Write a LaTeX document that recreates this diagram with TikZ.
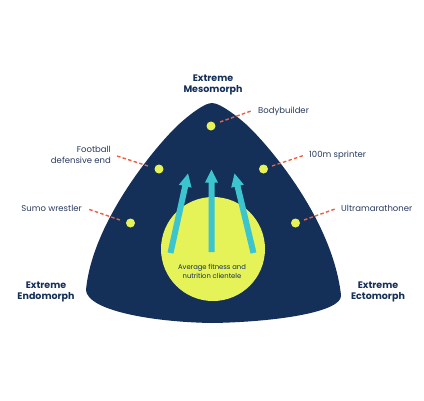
\documentclass[tikz,border=0pt]{standalone}
\usepackage{fontspec}
\setmainfont{Poppins}
\definecolor{navyc}{RGB}{20,48,88}
\definecolor{yellowc}{RGB}{229,242,88}
\definecolor{cyanc}{RGB}{60,196,207}
\definecolor{orangec}{RGB}{242,92,64}
\definecolor{labelc}{RGB}{40,58,96}
\tikzset{
  dot/.style={circle,fill=yellowc,inner sep=0pt,minimum size=9pt},
  dashline/.style={draw=orangec,line width=1.4pt,dash pattern=on 3.5pt off 2.3pt},
  lbl/.style={text=labelc,inner sep=0pt,font=\fontsize{8.5}{11}\selectfont},
  extreme/.style={text=navyc,inner sep=0pt,align=center,font=\fontsize{9.5}{11}\selectfont\bfseries},
}
\begin{document}
\begin{tikzpicture}[x=1pt,y=-1pt]
\useasboundingbox (0,0) rectangle (424,400);
% main rounded triangle
\fill[navyc] (212,103) .. controls (221,103) and (242,120) .. (250,128)
  .. controls (278,156) and (333,225) .. (341,295)
  .. controls (343,312) and (276,322) .. (212,323)
  .. controls (150,322) and (87,310) .. (86,290)
  .. controls (92,225) and (150,153) .. (175,128)
  .. controls (183,120) and (203,103) .. (212,103) -- cycle;
% central circle
\fill[yellowc] (213,249) circle (52pt);
% arrows
\fill[cyanc] (208.5,252) -- (214.5,252) -- (214.5,182.5) -- (218,182.5) -- (211.5,169.5) -- (205,182.5) -- (208.5,182.5) -- cycle;
\fill[cyanc] (173.43,253.645) -- (167.57,252.355) -- (182.275,185.555) -- (178.856,184.803) -- (188,173.5) -- (191.554,187.598) -- (188.135,186.845) -- cycle;
\fill[cyanc] (256.418,252.303) -- (250.582,253.697) -- (234.603,186.841) -- (231.199,187.655) -- (234.5,173.5) -- (243.843,184.633) -- (240.439,185.447) -- cycle;
% centre text
\node[text=navyc,inner sep=0pt,align=center,font=\fontsize{6.8}{9}\selectfont] (avg) at (212,271) {Average fitness and\\nutrition clientele};
% dots
\node[dot] (bb) at (211,126) {};
\node[dot] (fb) at (159,169) {};
\node[dot] (sp) at (263.5,169) {};
\node[dot] (sw) at (130.5,223) {};
\node[dot] (um) at (295.5,223) {};
% dashed leader ends
\coordinate (bb1) at (220,122); \coordinate (bb2) at (251,111);
\coordinate (sp1) at (272,166); \coordinate (sp2) at (305,155);
\coordinate (um1) at (304,220); \coordinate (um2) at (335,209);
\coordinate (fb1) at (148,166); \coordinate (fb2) at (117,156);
\coordinate (sw1) at (120,220); \coordinate (sw2) at (88,209);
\draw[dashline] (bb1) -- (bb2);
\draw[dashline] (sp1) -- (sp2);
\draw[dashline] (um1) -- (um2);
\draw[dashline] (fb1) -- (fb2);
\draw[dashline] (sw1) -- (sw2);
% labels
\node[lbl,anchor=base west] (tbb) at (258,113.5) {Bodybuilder};
\node[lbl,anchor=base west] (tsp) at (309,157.5) {100m sprinter};
\node[lbl,anchor=base west] (tum) at (341,211.7) {Ultramarathoner};
\node[lbl,anchor=base east] (tsw) at (82,211.7) {Sumo wrestler};
\node[lbl,anchor=base east] (tfb1) at (111,152.3) {Football};
\node[lbl,anchor=base east] (tfb2) at (111,163.3) {defensive end};
% extremes
\node[extreme] (meso) at (213,85) {Extreme\\Mesomorph};
\node[extreme] (endo) at (46,292) {Extreme\\Endomorph};
\node[extreme] (ecto) at (378,292) {Extreme\\Ectomorph};
\end{tikzpicture}
\end{document}
